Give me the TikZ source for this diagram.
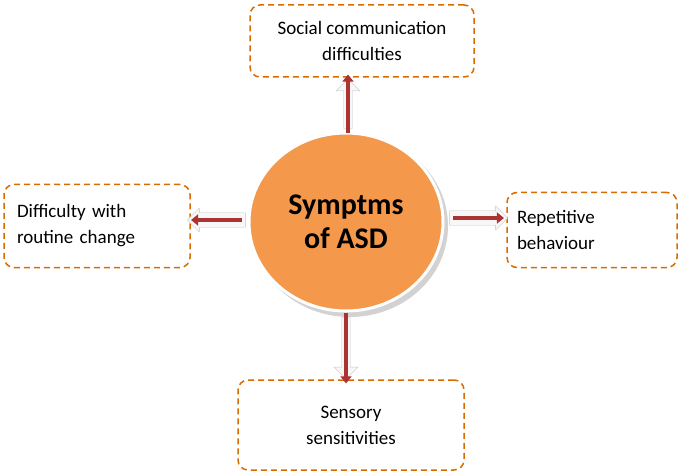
\documentclass[tikz,border=0pt]{standalone}
\usepackage{fontspec}
\setmainfont{Carlito}
\usetikzlibrary{shapes.arrows,shapes.geometric,arrows.meta}
\definecolor{orfill}{RGB}{244,152,76}
\begin{document}
\begin{tikzpicture}[x=1pt,y=-1pt,
 box/.style={draw=orange!85!black,line width=1.5pt,dash pattern=on 6pt off 4pt,rounded corners=10pt,fill=white,align=center,font=\fontsize{19}{26}\selectfont},
 barrow/.style={single arrow,draw=gray!45,fill=gray!6,minimum height=#1,minimum width=24pt,single arrow head extend=4pt,inner ysep=6pt,inner xsep=2pt},
 redline/.style={draw=red!60!black!80,line width=3.5pt,-{Triangle[length=7pt,width=11pt]}}]
\useasboundingbox (0,0) rectangle (685,473);
\fill[gray!35] (350,226) ellipse (98 and 91);
\node[ellipse,fill=orfill,draw=white,line width=3pt,minimum width=194pt,minimum height=178pt,text=black,font=\bfseries\fontsize{30}{34}\selectfont,align=center] (c) at (346,222) {Symptms\\of ASD};
\node[box,minimum width=224pt,minimum height=72pt] (t) at (362,41) {Social communication\\difficulties};
\node[box,minimum width=186pt,minimum height=83pt,align=left,text width=160pt] (l) at (97,226) {Difficulty with\\routine change};
\node[box,minimum width=170pt,minimum height=75pt,align=left,text width=150pt] (r) at (592,230) {Repetitive\\behaviour};
\node[box,minimum width=226pt,minimum height=90pt] (b) at (351,425) {Sensory\\sensitivities};
\node[barrow=50pt,shape border rotate=90] (au) at (348,106) {};
\node[barrow=58pt,shape border rotate=180] (al) at (220,220) {};
\node[barrow=58pt] (ar) at (475,218) {};
\node[barrow=62pt,shape border rotate=270] (ad) at (346,346) {};
\draw[redline] ([yshift=-4pt]au.south) -- ([yshift=4pt]au.north);
\draw[redline] ([xshift=-4pt]al.east) -- ([xshift=4pt]al.west);
\draw[redline] ([xshift=4pt]ar.west) -- ([xshift=-4pt]ar.east);
\draw[redline] ([yshift=4pt]ad.north) -- ([yshift=-4pt]ad.south);
\end{tikzpicture}
\end{document}
